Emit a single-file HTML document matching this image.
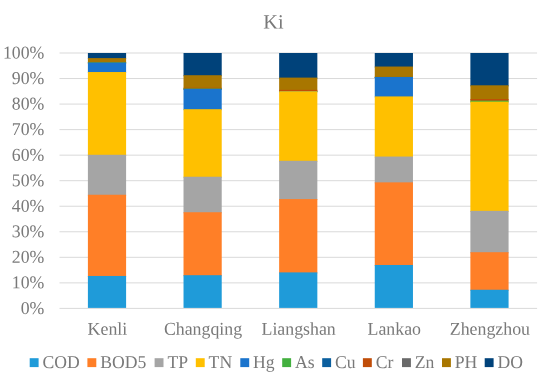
<!DOCTYPE html>
<html><head><meta charset="utf-8"><title>Ki</title>
<style>
html,body{margin:0;padding:0;background:#fff;}
svg{display:block;}
text{font-family:"Liberation Serif",serif;fill:#797979;text-rendering:geometricPrecision;}
</style></head><body>
<svg width="550" height="381" viewBox="0 0 550 381">
<rect width="550" height="381" fill="#ffffff"/>

<line x1="59.5" x2="537.1" y1="308.40" y2="308.40" stroke="#d9d9d9" stroke-width="1"/>
<text transform="translate(44.35 313.90) scale(0.985 1) rotate(0.03)" font-size="18" text-anchor="end">0%</text>
<line x1="59.5" x2="537.1" y1="282.86" y2="282.86" stroke="#d9d9d9" stroke-width="1"/>
<text transform="translate(44.35 288.36) scale(0.985 1) rotate(0.03)" font-size="18" text-anchor="end">10%</text>
<line x1="59.5" x2="537.1" y1="257.32" y2="257.32" stroke="#d9d9d9" stroke-width="1"/>
<text transform="translate(44.35 262.82) scale(0.985 1) rotate(0.03)" font-size="18" text-anchor="end">20%</text>
<line x1="59.5" x2="537.1" y1="231.78" y2="231.78" stroke="#d9d9d9" stroke-width="1"/>
<text transform="translate(44.35 237.28) scale(0.985 1) rotate(0.03)" font-size="18" text-anchor="end">30%</text>
<line x1="59.5" x2="537.1" y1="206.24" y2="206.24" stroke="#d9d9d9" stroke-width="1"/>
<text transform="translate(44.35 211.74) scale(0.985 1) rotate(0.03)" font-size="18" text-anchor="end">40%</text>
<line x1="59.5" x2="537.1" y1="180.70" y2="180.70" stroke="#d9d9d9" stroke-width="1"/>
<text transform="translate(44.35 186.20) scale(0.985 1) rotate(0.03)" font-size="18" text-anchor="end">50%</text>
<line x1="59.5" x2="537.1" y1="155.16" y2="155.16" stroke="#d9d9d9" stroke-width="1"/>
<text transform="translate(44.35 160.66) scale(0.985 1) rotate(0.03)" font-size="18" text-anchor="end">60%</text>
<line x1="59.5" x2="537.1" y1="129.62" y2="129.62" stroke="#d9d9d9" stroke-width="1"/>
<text transform="translate(44.35 135.12) scale(0.985 1) rotate(0.03)" font-size="18" text-anchor="end">70%</text>
<line x1="59.5" x2="537.1" y1="104.08" y2="104.08" stroke="#d9d9d9" stroke-width="1"/>
<text transform="translate(44.35 109.58) scale(0.985 1) rotate(0.03)" font-size="18" text-anchor="end">80%</text>
<line x1="59.5" x2="537.1" y1="78.54" y2="78.54" stroke="#d9d9d9" stroke-width="1"/>
<text transform="translate(44.35 84.04) scale(0.985 1) rotate(0.03)" font-size="18" text-anchor="end">90%</text>
<line x1="59.5" x2="537.1" y1="53.00" y2="53.00" stroke="#d9d9d9" stroke-width="1"/>
<text transform="translate(44.35 58.50) scale(0.985 1) rotate(0.03)" font-size="18" text-anchor="end">100%</text>
<rect x="87.90" y="53.00" width="38.2" height="6.11" fill="#00427a"/>
<rect x="87.90" y="58.11" width="38.2" height="5.09" fill="#a87600"/>
<rect x="87.90" y="62.19" width="38.2" height="1.13" fill="#c04d08"/>
<rect x="87.90" y="62.32" width="38.2" height="1.26" fill="#43b03f"/>
<rect x="87.90" y="62.58" width="38.2" height="10.45" fill="#1a74cd"/>
<rect x="87.90" y="72.03" width="38.2" height="83.75" fill="#ffc000"/>
<rect x="87.90" y="154.78" width="38.2" height="40.97" fill="#a5a5a5"/>
<rect x="87.90" y="194.75" width="38.2" height="82.22" fill="#ff7f27"/>
<rect x="87.90" y="275.96" width="38.2" height="31.94" fill="#1f9bd9"/>
<text transform="translate(107.40 334.65) scale(0.99 1) rotate(0.03)" font-size="18" text-anchor="middle">Kenli</text>
<rect x="183.52" y="53.00" width="38.2" height="23.22" fill="#00427a"/>
<rect x="183.52" y="75.22" width="38.2" height="13.51" fill="#a87600"/>
<rect x="183.52" y="87.73" width="38.2" height="1.77" fill="#c04d08"/>
<rect x="183.52" y="88.50" width="38.2" height="1.38" fill="#43b03f"/>
<rect x="183.52" y="88.88" width="38.2" height="21.30" fill="#1a74cd"/>
<rect x="183.52" y="109.19" width="38.2" height="68.55" fill="#ffc000"/>
<rect x="183.52" y="176.74" width="38.2" height="36.50" fill="#a5a5a5"/>
<rect x="183.52" y="212.24" width="38.2" height="63.96" fill="#ff7f27"/>
<rect x="183.52" y="275.20" width="38.2" height="32.70" fill="#1f9bd9"/>
<text transform="translate(203.02 334.65) scale(0.99 1) rotate(0.03)" font-size="18" text-anchor="middle">Changqing</text>
<rect x="279.14" y="53.00" width="38.2" height="25.60" fill="#00427a"/>
<rect x="279.14" y="77.60" width="38.2" height="13.26" fill="#a87600"/>
<rect x="279.14" y="89.85" width="38.2" height="2.20" fill="#c04d08"/>
<rect x="279.14" y="91.05" width="38.2" height="1.13" fill="#43b03f"/>
<rect x="279.14" y="91.18" width="38.2" height="1.05" fill="#1a74cd"/>
<rect x="279.14" y="91.23" width="38.2" height="70.55" fill="#ffc000"/>
<rect x="279.14" y="160.78" width="38.2" height="39.31" fill="#a5a5a5"/>
<rect x="279.14" y="199.09" width="38.2" height="74.30" fill="#ff7f27"/>
<rect x="279.14" y="272.39" width="38.2" height="35.51" fill="#1f9bd9"/>
<text transform="translate(298.64 334.65) scale(0.99 1) rotate(0.03)" font-size="18" text-anchor="middle">Liangshan</text>
<rect x="374.76" y="53.00" width="38.2" height="14.54" fill="#00427a"/>
<rect x="374.76" y="66.54" width="38.2" height="11.22" fill="#a87600"/>
<rect x="374.76" y="76.75" width="38.2" height="1.13" fill="#c04d08"/>
<rect x="374.76" y="76.88" width="38.2" height="1.13" fill="#43b03f"/>
<rect x="374.76" y="77.01" width="38.2" height="20.41" fill="#1a74cd"/>
<rect x="374.76" y="96.42" width="38.2" height="61.15" fill="#ffc000"/>
<rect x="374.76" y="156.56" width="38.2" height="26.80" fill="#a5a5a5"/>
<rect x="374.76" y="182.36" width="38.2" height="83.62" fill="#ff7f27"/>
<rect x="374.76" y="264.98" width="38.2" height="42.92" fill="#1f9bd9"/>
<text transform="translate(394.26 334.65) scale(0.99 1) rotate(0.03)" font-size="18" text-anchor="middle">Lankao</text>
<rect x="470.38" y="53.00" width="38.2" height="33.31" fill="#00427a"/>
<rect x="470.38" y="85.31" width="38.2" height="14.79" fill="#a87600"/>
<rect x="470.38" y="99.10" width="38.2" height="2.53" fill="#c04d08"/>
<rect x="470.38" y="100.63" width="38.2" height="2.02" fill="#43b03f"/>
<rect x="470.38" y="101.65" width="38.2" height="110.18" fill="#ffc000"/>
<rect x="470.38" y="210.84" width="38.2" height="42.37" fill="#a5a5a5"/>
<rect x="470.38" y="252.21" width="38.2" height="38.54" fill="#ff7f27"/>
<rect x="470.38" y="289.76" width="38.2" height="18.14" fill="#1f9bd9"/>
<text transform="translate(489.88 334.65) scale(0.99 1) rotate(0.03)" font-size="18" text-anchor="middle">Zhengzhou</text>
<text transform="translate(273.4 28.6) rotate(0.03)" font-size="20.3" text-anchor="middle">Ki</text>
<rect x="29.7" y="358.2" width="8.9" height="8.9" fill="#1f9bd9"/>
<text transform="translate(42.5 368.0) scale(0.98 1) rotate(0.03)" font-size="18">COD</text>
<rect x="87.4" y="358.2" width="8.9" height="8.9" fill="#ff7f27"/>
<text transform="translate(100.2 368.0) scale(0.98 1) rotate(0.03)" font-size="18">BOD5</text>
<rect x="154.6" y="358.2" width="8.9" height="8.9" fill="#a5a5a5"/>
<text transform="translate(167.4 368.0) scale(0.98 1) rotate(0.03)" font-size="18">TP</text>
<rect x="195.8" y="358.2" width="8.9" height="8.9" fill="#ffc000"/>
<text transform="translate(208.6 368.0) scale(0.98 1) rotate(0.03)" font-size="18">TN</text>
<rect x="240.3" y="358.2" width="8.9" height="8.9" fill="#1a74cd"/>
<text transform="translate(253.1 368.0) scale(0.98 1) rotate(0.03)" font-size="18">Hg</text>
<rect x="282.2" y="358.2" width="8.9" height="8.9" fill="#43b03f"/>
<text transform="translate(295.0 368.0) scale(0.98 1) rotate(0.03)" font-size="18">As</text>
<rect x="322.2" y="358.2" width="8.9" height="8.9" fill="#0b5f9e"/>
<text transform="translate(335.0 368.0) scale(0.98 1) rotate(0.03)" font-size="18">Cu</text>
<rect x="362.9" y="358.2" width="8.9" height="8.9" fill="#c04d08"/>
<text transform="translate(375.7 368.0) scale(0.98 1) rotate(0.03)" font-size="18">Cr</text>
<rect x="402.0" y="358.2" width="8.9" height="8.9" fill="#696969"/>
<text transform="translate(414.8 368.0) scale(0.98 1) rotate(0.03)" font-size="18">Zn</text>
<rect x="442.0" y="358.2" width="8.9" height="8.9" fill="#a87600"/>
<text transform="translate(454.8 368.0) scale(0.98 1) rotate(0.03)" font-size="18">PH</text>
<rect x="484.7" y="358.2" width="8.9" height="8.9" fill="#00427a"/>
<text transform="translate(497.5 368.0) scale(0.98 1) rotate(0.03)" font-size="18">DO</text>
</svg></body></html>
